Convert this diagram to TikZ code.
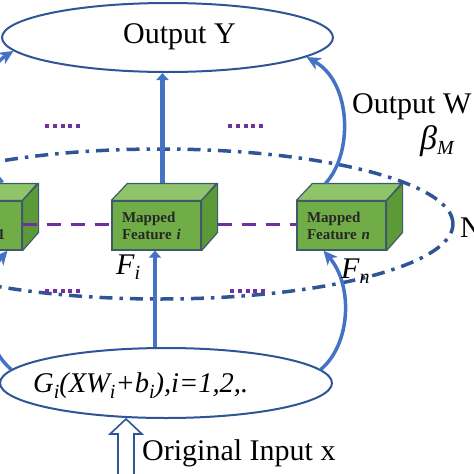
\documentclass[tikz,border=0pt]{standalone}
\usepackage{fontspec}
\setmainfont{Liberation Serif}
\usetikzlibrary{shapes.geometric,arrows.meta,calc}
\definecolor{arrowblue}{HTML}{4472C4}
\definecolor{darkblue}{HTML}{2F5597}
\definecolor{fgreen}{HTML}{70AD47}
\definecolor{tgreen}{HTML}{8FC46A}
\definecolor{sgreen}{HTML}{5B9A37}
\definecolor{boxedge}{HTML}{3F5A6A}
\definecolor{dotpurple}{HTML}{7030A0}
\newcommand\mysub[1]{\raisebox{-6pt}{\fontsize{20}{20}\selectfont #1}}
\newcommand\msub[1]{\raisebox{-5pt}{\fontsize{20}{20}\selectfont #1}}
\begin{document}
\begin{tikzpicture}[x=1pt,y=-1pt,
  outell/.style={ellipse, draw=darkblue, line width=2pt, fill=white, inner sep=0pt},
  front/.style={rectangle, draw=boxedge, line width=1.2pt, fill=fgreen, minimum width=89pt, minimum height=49pt, inner sep=0pt, text width=69pt, align=left, font=\fontsize{15}{17}\selectfont\bfseries, text=black!85},
  face/.style={draw=boxedge, line width=1.2pt, line join=round},
  bigtxt/.style={font=\fontsize{30}{36}\selectfont, inner sep=0pt, anchor=base west},
  mathtxt/.style={inner sep=0pt, anchor=base west, font=\fontsize{30}{34}\selectfont\itshape},
  midarrow/.style={draw=arrowblue, line width=4.5pt, -{Triangle[length=7pt,width=12pt]}},
  curvearrow/.style={draw=arrowblue, line width=3.5pt, -{Stealth[length=14pt,width=13pt,inset=4pt]}},
  dashring/.style={draw=darkblue, line width=3.5pt, dash pattern=on 13pt off 7pt on 3.5pt off 7pt},
  purpledash/.style={draw=dotpurple, line width=3pt, dash pattern=on 14pt off 10pt},
  purpledots/.style={draw=dotpurple, line width=4pt, dash pattern=on 4pt off 3.75pt},
  hollow/.style={draw=darkblue, line width=1.6pt, fill=white, line join=miter}
]
\useasboundingbox (0,0) rectangle (474,474);

% output and hidden-layer ellipses
\node[outell, minimum width=331pt, minimum height=69pt] (outY) at (167.5,37.5) {};
\node[outell, minimum width=332pt, minimum height=70pt] (outG) at (166,383) {};

% dash-dot ring of nodes
\draw[dashring] (160,224) ellipse [x radius=293pt, y radius=75pt];

% purple dots
\draw[purpledots] (45,126) -- (80,126);
\draw[purpledots] (228,126) -- (263,126);
\draw[purpledots] (45,291) -- (80,291);
\draw[purpledots] (230,291) -- (265,291);

% feature boxes (front faces)
\node[front] (b1) at (-22.5,225.5) {Mapped\\Feature 1};
\node[front] (bi) at (156.5,225.5) {Mapped\\Feature \textit{i}};
\node[front] (bn) at (341.5,225.5) {Mapped\\Feature \textit{n}};

% straight arrows of the middle column (under the box faces)
\draw[midarrow] ([xshift=-1.5pt]bi.south |- outG.north) -- ([xshift=-1.5pt]bi.south);
\draw[midarrow] ([xshift=6pt]bi.north) -- ([xshift=6pt]bi.north |- outY.south);

% 3D faces
\foreach \b in {b1,bi,bn}{
  \draw[face, fill=tgreen] (\b.north west) -- ++(16,-17) -- ++(89,0) -- (\b.north east) -- cycle;
  \draw[face, fill=sgreen] (\b.north east) -- ++(16,-17) -- ++(0,49) -- (\b.south east) -- cycle;
}

% purple dashed links
\draw[purpledash] ([yshift=1.5pt]b1.east) -- ([yshift=1.5pt]bi.west);
\draw[purpledash] ([xshift=16pt,yshift=1.5pt]bi.east) -- ([yshift=1.5pt]bn.west);

% curved arrows
\draw[curvearrow] (outG.5) .. controls +(30,-25) and +(30,35) .. ([xshift=-18pt]bn.south);
\draw[curvearrow] ([xshift=-16pt,yshift=17pt]bn.north) .. controls +(28,-30) and +(45,25) .. (outY.-8);
\draw[curvearrow] (outG.175) .. controls +(-30,-25) and +(-30,35) .. ([xshift=30pt]b1.south);
\draw[curvearrow] ([xshift=25pt,yshift=18pt]b1.north) .. controls +(-28,-30) and +(-40,25) .. (outY.-175);

% hollow input arrow
\coordinate (intip) at ([xshift=-40pt]outG.south);
\draw[hollow] (intip) -- ++(16,15) -- ++(-8,0) -- ++(0,47) -- ++(-16,0) -- ++(0,-47) -- ++(-8,0) -- cycle;

% texts
\node[bigtxt] (ty) at (123,43) {Output Y};
\node[bigtxt, font=\fontsize{28.5}{34}\selectfont] (tg) at (33,392) {\itshape G\mysub{i}(XW\mysub{i}+b\mysub{i}),i=1,2,.};
\node[bigtxt] (tx) at (142,460) {Original Input x};
\node[bigtxt] (tw) at (352,113) {Output W};
\node[bigtxt] (tn) at (460,237) {N};
\node[mathtxt, font=\fontsize{34}{38}\selectfont\itshape] (tb) at (420,149) {β\msub{M}};
\node[mathtxt] (tfi) at (116,274) {F\msub{i}};
\node[mathtxt] (tfn) at (341,278) {F\msub{n}};
\end{tikzpicture}
\end{document}
